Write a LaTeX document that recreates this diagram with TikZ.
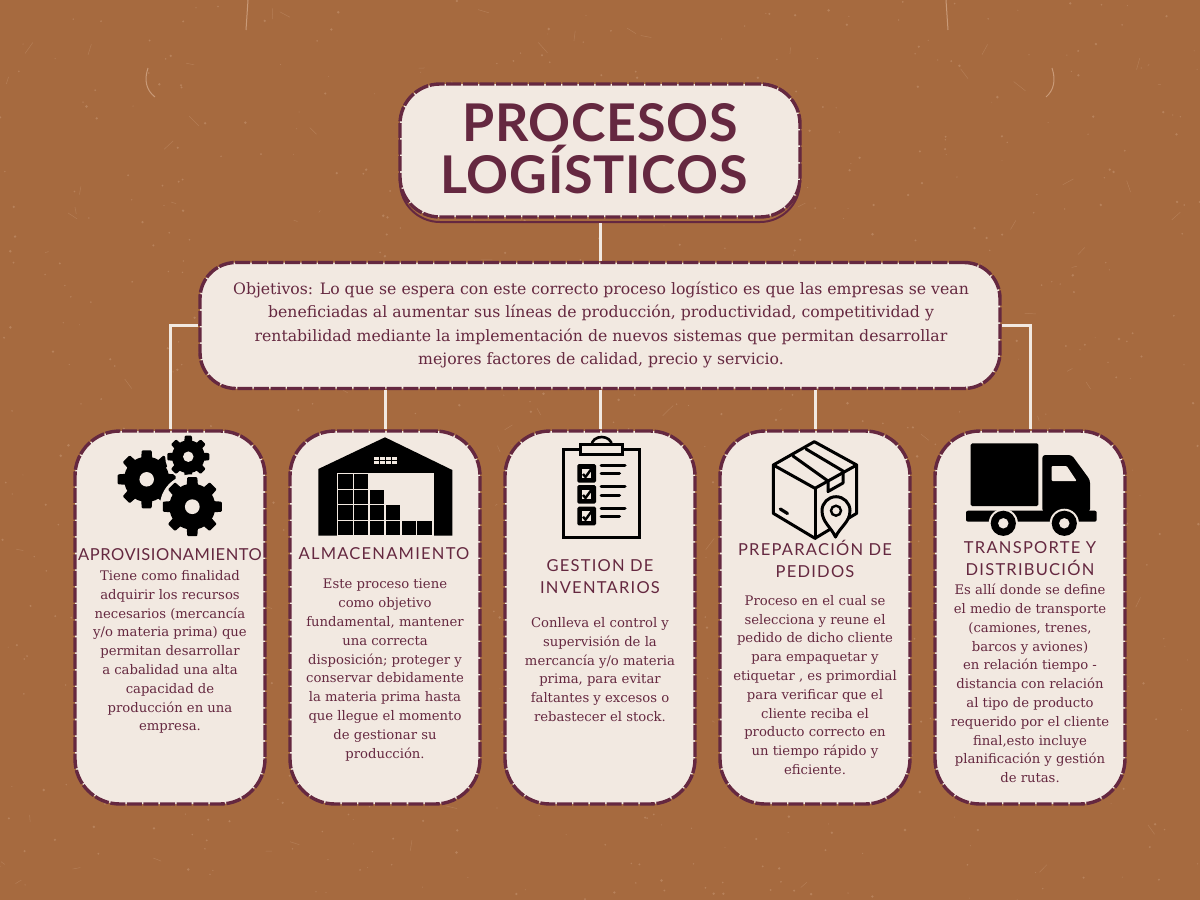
\documentclass[tikz,border=0pt]{standalone}
\usepackage{fontspec}
\setmainfont{DejaVu Serif}
\newfontfamily\titlefont[LetterSpace=1.5]{Lato}
\newfontfamily\headfont[LetterSpace=7.5]{Lato}
\definecolor{bgbrown}{HTML}{A66A3F}
\definecolor{plum}{HTML}{652840}
\definecolor{cream}{HTML}{F2E9E1}
\definecolor{speck}{HTML}{C99A78}
\tikzset{
  cardbox/.style={draw=plum,fill=cream,line width=3.4pt,dash pattern=on 15pt off 1.6pt,rectangle,inner sep=0pt,rounded corners=#1},
  cardbox/.default=45pt,
  stepcard/.style={cardbox=45pt,minimum width=190pt,minimum height=373pt},
  link/.style={draw=cream,line width=3pt},
  bodytext/.style={text=plum,align=center,inner sep=0pt,font=\fontsize{13.2}{18.8}\selectfont},
  headtext/.style={text=plum,align=center,inner sep=0pt,font=\headfont\fontsize{16.5}{22}\selectfont},
  inkline/.style={draw=black,line join=round,line cap=round},
  gearpic/.pic={
    \fill[cream] (0,0) circle (1.1);
    \fill[black] (0,0) circle (0.78);
    \foreach \a in {0,45,...,315}
      \fill[black,rotate=\a,rounded corners=1pt] (-0.24,0) -- (-0.17,1) -- (0.17,1) -- (0.24,0) -- cycle;
    \fill[cream] (0,0) circle (0.25);
  }
}
\begin{document}
\begin{tikzpicture}[x=1pt,y=-1pt]
\useasboundingbox (0,0) rectangle (1200,900);
\fill[bgbrown] (0,0) rectangle (1200,900);
% paper texture
\pgfmathsetseed{7}
\foreach \i in {1,...,800}{
  \pgfmathsetmacro\px{rnd*1200}
  \pgfmathsetmacro\py{rnd*900}
  \pgfmathsetmacro\pr{0.4+rnd*1.0}
  \fill[speck,opacity=0.5] (\px,\py) circle (\pr pt);
}
\foreach \i in {1,...,140}{
  \pgfmathsetmacro\px{rnd*1200}
  \pgfmathsetmacro\py{rnd*900}
  \pgfmathsetmacro\pd{rnd*24-12}
  \pgfmathsetmacro\pe{rnd*24-12}
  \draw[speck,opacity=0.4,line width=0.5pt] (\px,\py) -- ++(\pd,\pe);
}
\draw[speck,line width=1pt] (148,68) .. controls (144,80) and (146,90) .. (155,97);
\draw[speck,line width=1pt] (1052,68) .. controls (1056,80) and (1054,90) .. (1046,97);
\draw[speck,line width=1pt] (248,0) -- (246,30);
\draw[speck,line width=1pt] (946,0) -- (948,30);

% title shadow, then cards
\node[cardbox=40pt,draw=plum,fill=none,solid,line width=2pt,minimum width=400pt,minimum height=133pt] (titleshadow) at (600,155.5) {};
\node[cardbox=40pt,minimum width=400pt,minimum height=133pt] (title) at (600,150.5) {};
\node[cardbox=36pt,minimum width=800pt,minimum height=126pt] (obj) at (600,325.5) {};
\node[stepcard] (b1) at (170,617.5) {};
\node[stepcard] (b2) at (385,617.5) {};
\node[stepcard] (b3) at (600,617.5) {};
\node[stepcard] (b4) at (815,617.5) {};
\node[stepcard] (b5) at (1030,617.5) {};

% connectors
\draw[link] (titleshadow.south) -- (obj.north);
\draw[link] (obj.west) -| (b1.north);
\draw[link] (obj.south -| b2.north) -- (b2.north);
\draw[link] (obj.south) -- (b3.north);
\draw[link] (obj.south -| b4.north) -- (b4.north);
\draw[link] (obj.east) -| (b5.north);

% title
\node[text=plum,inner sep=0pt,font=\titlefont\bfseries\fontsize{52}{53}\selectfont,anchor=base] (t1) at (600,141) {PROCESOS};
\node[text=plum,inner sep=0pt,font=\titlefont\bfseries\fontsize{52}{53}\selectfont,anchor=base] (t2) at (594,193) {LOGÍSTICOS};

% objectives
\node[text=plum,align=center,inner sep=0pt,font=\fontsize{15.7}{23.4}\selectfont] (objtext) at (601,325)
 {Objetivos: Lo que se espera con este correcto proceso logístico es que las empresas se vean\\
  beneficiadas al aumentar sus líneas de producción, productividad, competitividad y\\
  rentabilidad mediante la implementación de nuevos sistemas que permitan desarrollar\\
  mejores factores de calidad, precio y servicio.};

% card 1: gears
\pic[scale=29] at (146.7,479.3) {gearpic};
\pic[scale=21] at (188.3,456.7) {gearpic};
\pic[scale=29.5] at (192.3,506.7) {gearpic};
\node[headtext,font=\headfont\fontsize{16.5}{22}\selectfont\addfontfeature{LetterSpace=3.3}] (h1) at (170,555) {APROVISIONAMIENTO};
\node[bodytext] (d1) at (170,652) {Tiene como finalidad\\adquirir los recursos\\necesarios (mercancía\\y/o materia prima) que\\permitan desarrollar\\a cabalidad una alta\\capacidad de\\producción en una\\empresa.};

% card 2: warehouse
\fill[black] (318.3,469) -- (385,437.3) -- (452.3,470) -- (452.3,535.7) -- (318.3,535.7) -- cycle;
\fill[cream] (336.7,472.7) rectangle (434,535.7);
\foreach \c/\r in {0/0,1/0,2/0,3/0,4/0,5/0,0/1,1/1,2/1,3/1,0/2,1/2,2/2,0/3,1/3}
  \fill[black] ({338.3+\c*15.8},{521-\r*15.6}) rectangle ++(14.3,14.3);
\foreach \c in {0,1,2,3}
  \foreach \r in {0,1}
    \fill[cream] ({373.6+\c*6.1},{457+\r*4.2}) rectangle ++(5,2.6);
\node[headtext] (h2) at (384,554) {ALMACENAMIENTO};
\node[bodytext] (d2) at (385,670) {Este proceso tiene\\como objetivo\\fundamental, mantener\\una correcta\\disposición; proteger y\\conservar debidamente\\la materia prima hasta\\que llegue el momento\\de gestionar su\\producción.};

% card 3: clipboard
\draw[inkline,line width=2.6pt] (591.7,445) arc[start angle=180,end angle=360,x radius=10,y radius=8];
\draw[black,line width=3pt,fill=cream] (563.8,449.5) rectangle (639.4,537);
\draw[black,line width=3pt,fill=cream] (580.8,444.8) rectangle (622.8,454);
\foreach \y/\la/\lb in {464/465/473.3,485/486.7/495,506.7/508.3/516}{
  \fill[black,rounded corners=1.5pt] (577.3,\y) rectangle ++(18.7,18.7);
  \fill[cream] (581.5,{\y+4.5}) rectangle ++(9.5,9.5);
  \draw[black,line width=2.4pt] (583,{\y+10}) -- (585.5,{\y+13}) -- (592,{\y+4});
  \draw[inkline,line width=3pt] (601,\la) -- (625,\la);
  \draw[inkline,line width=3pt] (601,\lb) -- (619.5,\lb);
}
\node[headtext] (h3) at (600,577) {GESTION DE\\INVENTARIOS};
\node[bodytext] (d3) at (600,669.5) {Conlleva el control y\\supervisión de la\\mercancía y/o materia\\prima, para evitar\\faltantes y excesos o\\rebastecer el stock.};

% card 4: parcel with pin
\draw[inkline,line width=3pt] (814.3,441.7) -- (856.7,465) -- (856.7,513.3) -- (815,538.3) -- (773.3,513.3) -- (773.3,465) -- cycle;
\draw[inkline,line width=3pt] (773.3,465) -- (815,488.3) -- (856.7,465);
\draw[inkline,line width=3pt] (815,488.3) -- (815,538.3);
\draw[inkline,line width=3pt] (793,456) -- (828,481) -- (828,491.5) -- (843,483) -- (843,471) -- (806,449);
\draw[inkline,line width=3.2pt] (780.3,509) -- (787.5,513.5);
\draw[black,line width=3pt,fill=cream,line join=round] (835.5,537) .. controls (831,527) and (822,522) .. (822,510.7) arc[start angle=180,end angle=360,radius=14] .. controls (850,522) and (840,527) .. (835.5,537) -- cycle;
\draw[black,line width=2.4pt] (836,510.7) circle (5);
\node[headtext] (h4) at (815,559) {PREPARACIÓN DE\\PEDIDOS};
\node[bodytext] (d4) at (815,685) {Proceso en el cual se\\selecciona y reune el\\pedido de dicho cliente\\para empaquetar y\\etiquetar , es primordial\\para verificar que el\\cliente reciba el\\producto correcto en\\un tiempo rápido y\\eficiente.};

% card 5: truck
\fill[black,rounded corners=1.5pt] (970.7,443.3) rectangle (1038.3,506);
\fill[black,rounded corners=3pt] (1042.3,455) -- (1071.7,455) -- (1090,480) -- (1090,512) -- (1042.3,512) -- cycle;
\fill[cream,rounded corners=1pt] (1051.7,466) -- (1066.7,466) -- (1076.7,481) -- (1051.7,481) -- cycle;
\fill[black,rounded corners=2pt] (966,510.7) rectangle (1096.7,521.7);
\foreach \x in {1003.3,1064.3}{
  \fill[cream] (\x,523.3) circle (14.6);
  \fill[black] (\x,523.3) circle (12.6);
  \fill[cream] (\x,523.3) circle (5.2);
}
\node[headtext] (h5) at (1030,558.5) {TRANSPORTE Y\\DISTRIBUCIÓN};
\node[bodytext] (d5) at (1030,683.5) {Es allí donde se define\\el medio de transporte\\(camiones, trenes,\\barcos y aviones)\\en relación tiempo -\\distancia con relación\\al tipo de producto\\requerido por el cliente\\final,esto incluye\\planificación y gestión\\de rutas.};
\end{tikzpicture}
\end{document}
